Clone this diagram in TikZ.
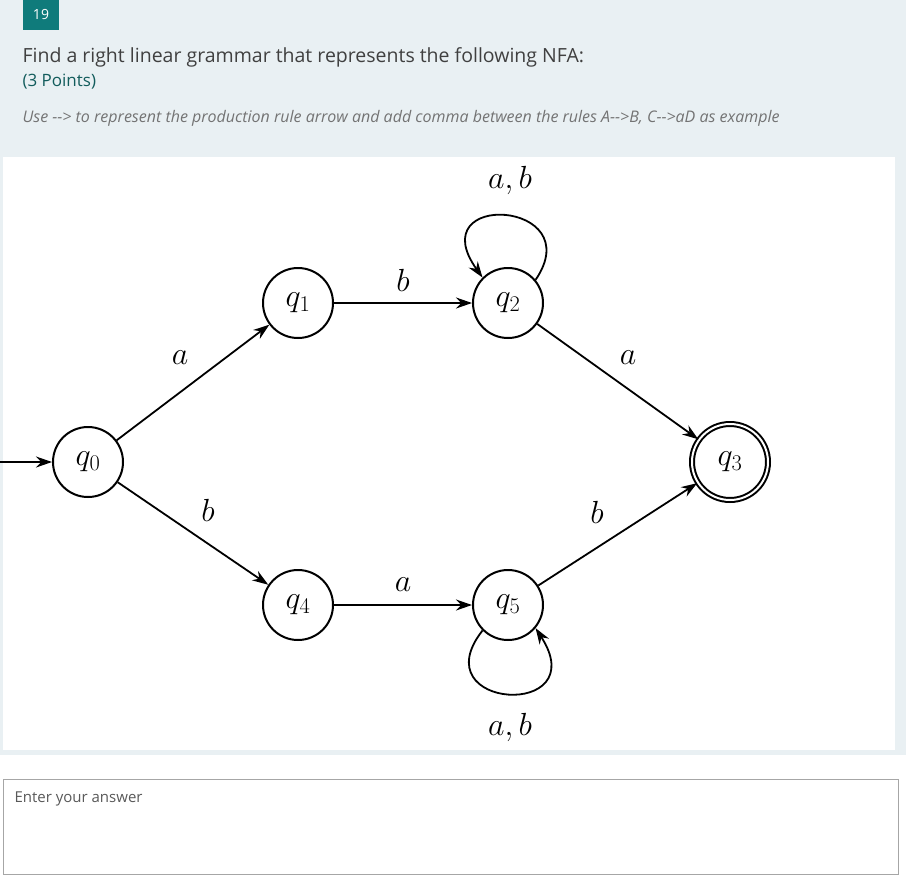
\RequirePackage{fix-cm}
\documentclass[tikz,border=0pt]{standalone}
\usepackage{fontspec}
\setsansfont{Open Sans}
\usetikzlibrary{arrows.meta}
\definecolor{bgblue}{HTML}{E9F0F3}
\definecolor{teal}{HTML}{0F7B7B}
\definecolor{tealtext}{HTML}{125C5C}
\begin{document}
\begin{tikzpicture}[x=1pt,y=-1pt,
  st/.style={circle,draw,line width=2pt,minimum size=70pt,inner sep=0pt,font=\fontsize{32}{32}\selectfont},
  edge/.style={line width=1.8pt,-{Stealth[length=16pt,width=11pt]}},
  lab/.style={font=\fontsize{32}{32}\selectfont}]
\useasboundingbox (0,0) rectangle (906,879);
\fill[white] (0,0) rectangle (906,879);
\fill[bgblue] (0,0) rectangle (906,755);
\fill[white] (3,157) rectangle (895,750);
\fill[teal] (23,0) rectangle (59,30);
\node[font=\sffamily\fontsize{14}{14}\selectfont,text=white] (num) at (41,14) {19};
\node[anchor=west,font=\sffamily\fontsize{19.5}{19.5}\selectfont,text=black!75] (t1) at (19,57) {Find a right linear grammar that represents the following NFA:};
\node[anchor=west,font=\sffamily\fontsize{17}{17}\selectfont,text=tealtext] (t2) at (19,82) {(3 Points)};
\node[anchor=west,font=\sffamily\itshape\fontsize{16}{16}\selectfont,text=black!55] (t3) at (19,118) {Use -{}-> to represent the production rule arrow and add comma between the rules A-{}->B, C-{}->aD as example};
\draw[black!35,line width=1pt] (3,779) rectangle (898,874);
\node[anchor=west,font=\sffamily\fontsize{15}{15}\selectfont,text=black!65] (ans) at (11,799) {Enter your answer};

\node[st] (q0) at (88,462) {$q_0$};
\node[st] (q1) at (298,303) {$q_1$};
\node[st] (q2) at (508,303) {$q_2$};
\node[st,minimum size=76pt,double,double distance=2pt] (q3) at (730,462) {$q_3$};
\node[st] (q4) at (298,605) {$q_4$};
\node[st] (q5) at (508,605) {$q_5$};
\coordinate (init) at (0,462);
\draw[edge] (init) -- (q0);
\draw[edge] (q0) -- (q1);
\draw[edge] (q1) -- (q2);
\draw[edge] (q2) -- (q3);
\draw[edge] (q0) -- (q4);
\draw[edge] (q4) -- (q5);
\draw[edge] (q5) -- (q3);
\draw[edge] (q2.40) .. controls (590,200) and (420,190) .. (q2.135);
\draw[edge] (q5.225) .. controls (420,710) and (595,720) .. (q5.-40);
\node[lab] (l1) at (510,180) {$a,b$};
\node[lab] (l2) at (403,280) {$b$};
\node[lab] (l3) at (180,358) {$a$};
\node[lab] (l4) at (628,358) {$a$};
\node[lab] (l5) at (208,510) {$b$};
\node[lab] (l6) at (597,512) {$b$};
\node[lab] (l7) at (403,585) {$a$};
\node[lab] (l8) at (510,727) {$a,b$};
\end{tikzpicture}
\end{document}
